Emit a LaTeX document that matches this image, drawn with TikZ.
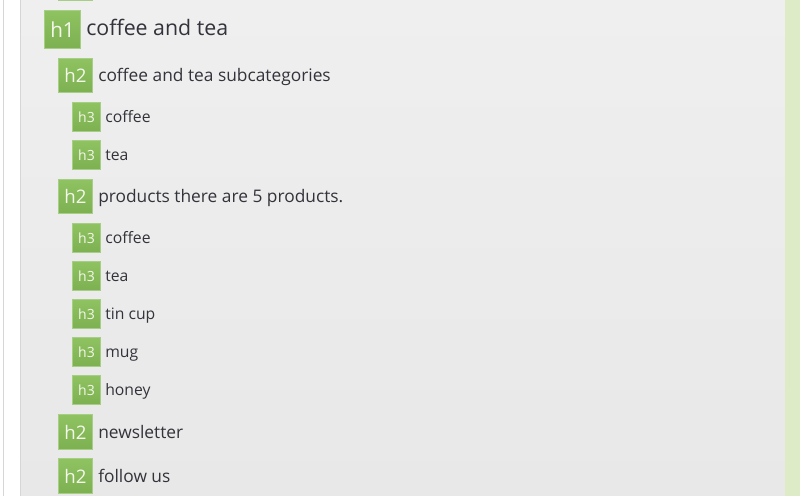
\documentclass[tikz,border=0pt]{standalone}
\usepackage{fontspec}
\setmainfont{Open Sans}
\definecolor{panelTop}{HTML}{EFEFEF}
\definecolor{panelBot}{HTML}{E8E8E8}
\definecolor{panelLine}{HTML}{D6D6D6}
\definecolor{sideGreen}{HTML}{DDEBC6}
\definecolor{boxTop}{HTML}{8FC362}
\definecolor{boxBot}{HTML}{7DB050}
\definecolor{boxLine}{HTML}{A6CF85}
\definecolor{labelText}{HTML}{F4F7EC}
\definecolor{bodyText}{HTML}{33333B}
\tikzset{
  hbox/.style={draw=boxLine, line width=0.75pt, top color=boxTop, bottom color=boxBot, text=labelText, inner sep=0pt, anchor=center},
  hone/.style={hbox, minimum width=27.5pt, minimum height=29pt, font=\fontsize{15.5}{17}\selectfont},
  htwo/.style={hbox, minimum width=26pt, minimum height=26pt, font=\fontsize{14}{16}\selectfont},
  hthree/.style={hbox, minimum width=21.5pt, minimum height=22pt, font=\fontsize{10.5}{12}\selectfont},
  tone/.style={anchor=base west, inner sep=0pt, text=bodyText, font=\fontsize{16}{19}\selectfont},
  ttwo/.style={anchor=base west, inner sep=0pt, text=bodyText, font=\fontsize{13}{16}\selectfont},
  tthree/.style={anchor=base west, inner sep=0pt, text=bodyText, font=\fontsize{11.8}{14}\selectfont},
}
\begin{document}
\begin{tikzpicture}[x=0.75pt,y=-0.75pt]
\useasboundingbox (0,0) rectangle (800,496);
\fill[white] (0,0) rectangle (800,496);
\draw[panelLine, line width=0.75pt] (3,0) -- (3,496);
\shade[top color=panelTop, bottom color=panelBot] (21,0) rectangle (785,496);
\draw[panelLine, line width=1pt] (20.5,0) -- (20.5,496);
\fill[sideGreen] (785,0) rectangle (800,496);
% cropped box at top
\node[htwo] (top) at (75.5,-16.5) {};
% h1
\node[hone] (b1) at (62.5,29.5) {h1};
\node[tone] (t1) at (86,35.5) {coffee and tea};
% h2 subcategories
\node[htwo] (b2) at (75.5,75.5) {h2};
\node[ttwo] (t2) at (98,81.5) {coffee and tea subcategories};
\node[hthree] (b3) at (86.5,117) {h3};
\node[tthree] (t3) at (105,122.5) {coffee};
\node[hthree] (b4) at (86.5,155) {h3};
\node[tthree] (t4) at (105,160.5) {tea};
% h2 products
\node[htwo] (b5) at (75.5,196.5) {h2};
\node[ttwo] (t5) at (98,202.5) {products there are 5 products.};
\node[hthree] (b6) at (86.5,238) {h3};
\node[tthree] (t6) at (105,243.5) {coffee};
\node[hthree] (b7) at (86.5,276) {h3};
\node[tthree] (t7) at (105,281.5) {tea};
\node[hthree] (b8) at (86.5,314) {h3};
\node[tthree] (t8) at (105,319.5) {tin cup};
\node[hthree] (b9) at (86.5,352) {h3};
\node[tthree] (t9) at (105,357.5) {mug};
\node[hthree] (b10) at (86.5,390) {h3};
\node[tthree] (t10) at (105,395.5) {honey};
% h2 newsletter / follow us
\node[htwo] (b11) at (75.5,432) {h2};
\node[ttwo] (t11) at (98,438) {newsletter};
\node[htwo] (b12) at (75.5,476) {h2};
\node[ttwo] (t12) at (98,482) {follow us};
\end{tikzpicture}
\end{document}
